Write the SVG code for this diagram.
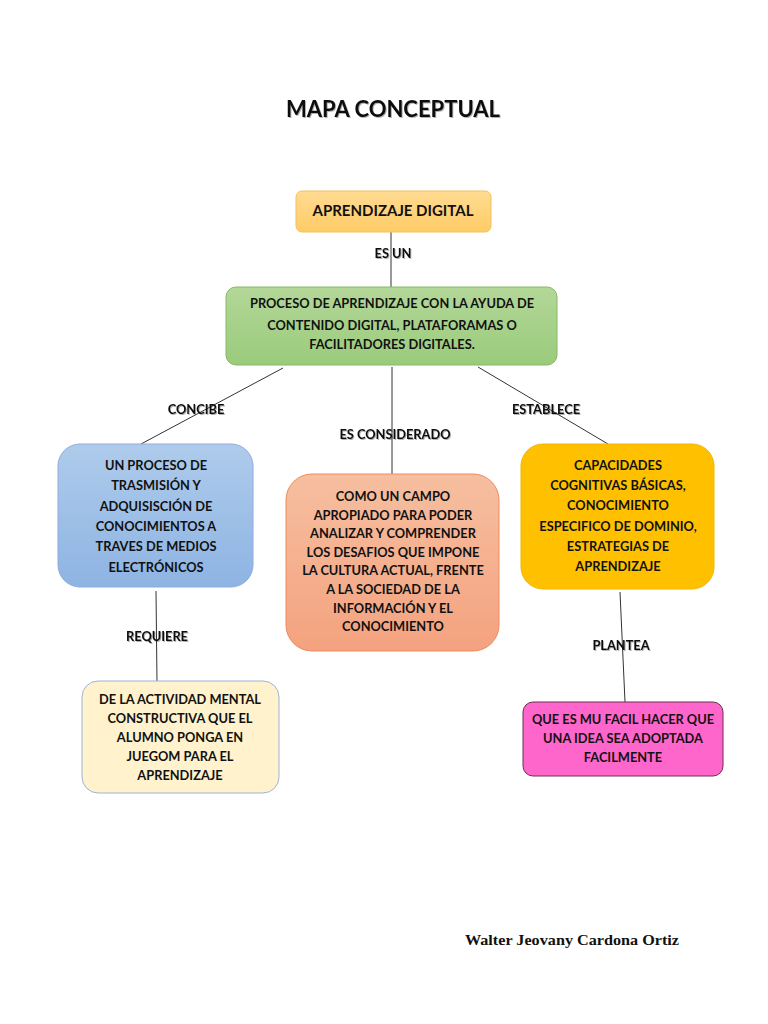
<svg xmlns="http://www.w3.org/2000/svg" width="768" height="1024" viewBox="0 0 768 1024">
<defs>
  <linearGradient id="gTop" x1="0" y1="0" x2="0" y2="1">
    <stop offset="0" stop-color="#FFDB92"/><stop offset="1" stop-color="#FFCC66"/>
  </linearGradient>
  <linearGradient id="gGreen" x1="0" y1="0" x2="0" y2="1">
    <stop offset="0" stop-color="#B3D798"/><stop offset="1" stop-color="#9ACB7C"/>
  </linearGradient>
  <linearGradient id="gBlue" x1="0" y1="0" x2="0" y2="1">
    <stop offset="0" stop-color="#AECBEB"/><stop offset="1" stop-color="#8EB4E3"/>
  </linearGradient>
  <linearGradient id="gSalmon" x1="0" y1="0" x2="0" y2="1">
    <stop offset="0" stop-color="#F6BFA0"/><stop offset="1" stop-color="#F4A27F"/>
  </linearGradient>
  <filter id="sh" x="-10%" y="-30%" width="120%" height="160%">
    <feDropShadow dx="1" dy="1" stdDeviation="0.6" flood-color="#000" flood-opacity="0.3"/>
  </filter>
  <style>
    .t { font-family: Lato, "Open Sans", "Liberation Sans", sans-serif; font-weight: bold; fill: #111; text-anchor: middle; }
    .n { font-size: 12.8px; }
    .lbl { font-size: 12.8px; filter: url(#sh); }
    .c { stroke: #333; stroke-width: 1; fill: none; }
  </style>
</defs>
<rect width="768" height="1024" fill="#fff"/>

<text class="t" x="393" y="117" font-size="22" filter="url(#sh)">MAPA CONCEPTUAL</text>

<g id="connectors">
  <line class="c" x1="391" y1="232" x2="391" y2="287"/>
  <line class="c" x1="283" y1="368" x2="141" y2="444"/>
  <line class="c" x1="392" y1="367" x2="392" y2="474"/>
  <line class="c" x1="478" y1="367" x2="608" y2="444"/>
  <line class="c" x1="156" y1="591" x2="157" y2="683"/>
  <line class="c" x1="620" y1="592" x2="625" y2="702"/>
  <text class="t lbl" x="393" y="258">ES UN</text>
  <text class="t lbl" x="196" y="414">CONCIBE</text>
  <text class="t lbl" x="395" y="439">ES CONSIDERADO</text>
  <text class="t lbl" x="546" y="414">ESTABLECE</text>
  <text class="t lbl" x="157" y="641">REQUIERE</text>
  <text class="t lbl" x="621" y="650">PLANTEA</text>
</g>

<g id="n1">
  <rect x="296" y="191" width="195" height="41" rx="6" fill="url(#gTop)" stroke="#F2C15C" stroke-width="1"/>
  <text class="t" x="393" y="216" font-size="15">APRENDIZAJE DIGITAL</text>
</g>

<g id="n2">
  <rect x="226" y="287" width="331" height="78" rx="10" fill="url(#gGreen)" stroke="#86B965" stroke-width="1"/>
  <text class="t n" x="392" y="308">PROCESO DE APRENDIZAJE CON LA AYUDA DE</text>
  <text class="t n" x="392" y="330">CONTENIDO DIGITAL, PLATAFORAMAS O</text>
  <text class="t n" x="392" y="349">FACILITADORES DIGITALES.</text>
</g>

<g id="n3">
  <rect x="58" y="444" width="195" height="143" rx="22" fill="url(#gBlue)" stroke="#8FAADC" stroke-width="1"/>
  <text class="t n" x="156" y="470">UN PROCESO DE</text>
  <text class="t n" x="156" y="490">TRASMISIÓN Y</text>
  <text class="t n" x="156" y="511">ADQUISISCIÓN DE</text>
  <text class="t n" x="156" y="531">CONOCIMIENTOS A</text>
  <text class="t n" x="156" y="551">TRAVES DE MEDIOS</text>
  <text class="t n" x="156" y="572">ELECTRÓNICOS</text>
</g>

<g id="n4">
  <rect x="286" y="474" width="213" height="177" rx="26" fill="url(#gSalmon)" stroke="#F08A5D" stroke-width="1"/>
  <text class="t n" x="393" y="501">COMO UN CAMPO</text>
  <text class="t n" x="393" y="520">APROPIADO PARA PODER</text>
  <text class="t n" x="393" y="538">ANALIZAR Y COMPRENDER</text>
  <text class="t n" x="393" y="557">LOS DESAFIOS QUE IMPONE</text>
  <text class="t n" x="393" y="575">LA CULTURA ACTUAL, FRENTE</text>
  <text class="t n" x="393" y="594">A LA SOCIEDAD DE LA</text>
  <text class="t n" x="393" y="613">INFORMACIÓN Y EL</text>
  <text class="t n" x="393" y="631">CONOCIMIENTO</text>
</g>

<g id="n5">
  <rect x="521" y="444" width="193" height="145" rx="22" fill="#FFC000" stroke="#F2B600" stroke-width="1"/>
  <text class="t n" x="618" y="470">CAPACIDADES</text>
  <text class="t n" x="618" y="490">COGNITIVAS BÁSICAS,</text>
  <text class="t n" x="618" y="510">CONOCIMIENTO</text>
  <text class="t n" x="618" y="531">ESPECIFICO DE DOMINIO,</text>
  <text class="t n" x="618" y="551">ESTRATEGIAS DE</text>
  <text class="t n" x="618" y="571">APRENDIZAJE</text>
</g>

<g id="n6">
  <rect x="82" y="681" width="197" height="112" rx="16" fill="#FFF2CC" stroke="#9DB3D8" stroke-width="1"/>
  <text class="t n" x="180" y="704">DE LA ACTIVIDAD MENTAL</text>
  <text class="t n" x="180" y="723">CONSTRUCTIVA QUE EL</text>
  <text class="t n" x="180" y="742">ALUMNO PONGA EN</text>
  <text class="t n" x="180" y="761">JUEGOM PARA EL</text>
  <text class="t n" x="180" y="780">APRENDIZAJE</text>
</g>

<g id="n7">
  <rect x="523" y="702" width="200" height="74" rx="10" fill="#FF66CC" stroke="#6B3050" stroke-width="1"/>
  <text class="t n" x="623" y="724">QUE ES MU FACIL HACER QUE</text>
  <text class="t n" x="623" y="743">UNA IDEA SEA ADOPTADA</text>
  <text class="t n" x="623" y="762">FACILMENTE</text>
</g>

<text x="465" y="945" font-family="'Liberation Serif', 'DejaVu Serif', serif" font-weight="bold" font-size="15.5" fill="#111" textLength="214" lengthAdjust="spacingAndGlyphs">Walter Jeovany Cardona Ortiz</text>
</svg>
